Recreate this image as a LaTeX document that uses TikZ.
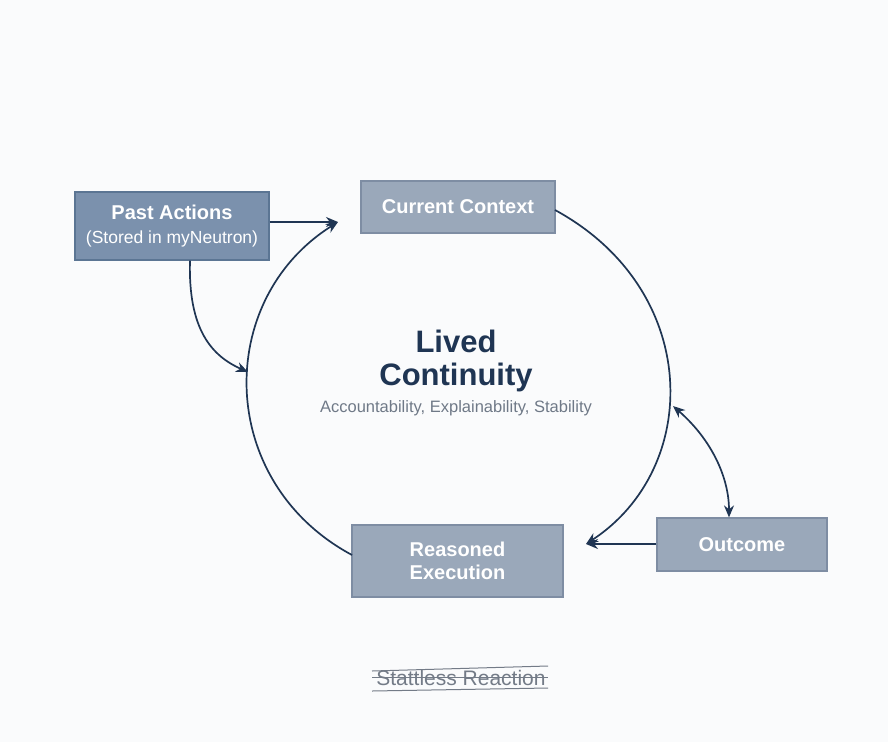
\documentclass[tikz,border=0pt]{standalone}
\usepackage{fontspec}
\setmainfont{Liberation Sans}
\usetikzlibrary{arrows.meta}
\definecolor{bgc}{HTML}{FAFBFC}
\definecolor{pastfill}{HTML}{7B91AD}
\definecolor{pastdraw}{HTML}{5B7593}
\definecolor{boxfill}{HTML}{9AA8BA}
\definecolor{boxdraw}{HTML}{7E8DA3}
\definecolor{navy}{HTML}{1F3553}
\definecolor{subgray}{HTML}{6F7987}
\definecolor{strikegray}{HTML}{737B87}
\tikzset{
  px/.style={x=1pt,y=-1pt},
  boxbase/.style={rectangle, inner sep=0pt, line width=1.2pt, align=center, text=white,
    font=\fontsize{20}{23.5}\selectfont\bfseries},
  pastbox/.style={boxbase, fill=pastfill, draw=pastdraw},
  stepbox/.style={boxbase, fill=boxfill, draw=boxdraw},
  tipstyle/.style={},
  conn/.style={draw=navy, line width=1.7pt, -{Stealth[length=12pt,width=10pt]}},
  dconn/.style={draw=navy, line width=1.7pt, {Stealth[length=12pt,width=10pt]}-{Stealth[length=12pt,width=10pt]}},
}
\begin{document}
\begin{tikzpicture}[px]
\fill[bgc] (0,0) rectangle (888,742);
\useasboundingbox (0,0) rectangle (888,742);

% boxes
\node[pastbox, minimum width=194pt, minimum height=68pt] (past) at (172,226)
  {Past Actions\\{\fontsize{17.5}{23.5}\selectfont\mdseries (Stored in myNeutron)}};
\node[stepbox, minimum width=194pt, minimum height=52pt] (ctx) at (458,207)
  {Current Context};
\node[stepbox, minimum width=211pt, minimum height=72pt] (exec) at (457.5,561)
  {Reasoned\\Execution};
\node[stepbox, minimum width=170pt, minimum height=53pt] (out) at (742,544.5)
  {Outcome};

% centre text
\node[text=navy, align=center, font=\fontsize{31}{33}\selectfont\bfseries] (lived) at (456,361)
  {Lived\\Continuity};
\node[text=subgray, font=\fontsize{16.5}{20}\selectfont] (sub) at (456,408)
  {Accountability, Explainability, Stability};

% coordinates on the loop
\coordinate (ctxin) at (338,222);
\coordinate (execin) at (586,544);
\coordinate (loopL) at (248,372);
\coordinate (loopR) at (673,406);
\coordinate (execw) at (352,555);
\coordinate (ctxe) at (555,210);

% loop arcs
\draw[conn] (execw) .. controls (216,482) and (214,300) .. (ctxin);
\draw[conn] (ctxe) .. controls (702,290) and (702,468) .. (execin);

% past actions links
\draw[conn] (past.east |- ctxin) -- (ctxin);
\draw[conn] ([xshift=18pt]past.south) .. controls (188,330) and (212,356) .. (loopL);

% outcome links
\draw[conn] (out.west |- execin) -- (execin);
\draw[dconn] (loopR) .. controls (712,440) and (729,478) .. ([xshift=-13pt]out.north);

% crossed out label
\node[text=strikegray, font=\fontsize{21}{24}\selectfont] (stless) at (461,678) {Stattless Reaction};
\draw[strikegray, line width=1pt] (372,677) -- (548,677);
\draw[strikegray, line width=1pt] (372,671) -- (548,666);
\draw[strikegray, line width=1pt] (372,691) -- (548,688);
\end{tikzpicture}
\end{document}
